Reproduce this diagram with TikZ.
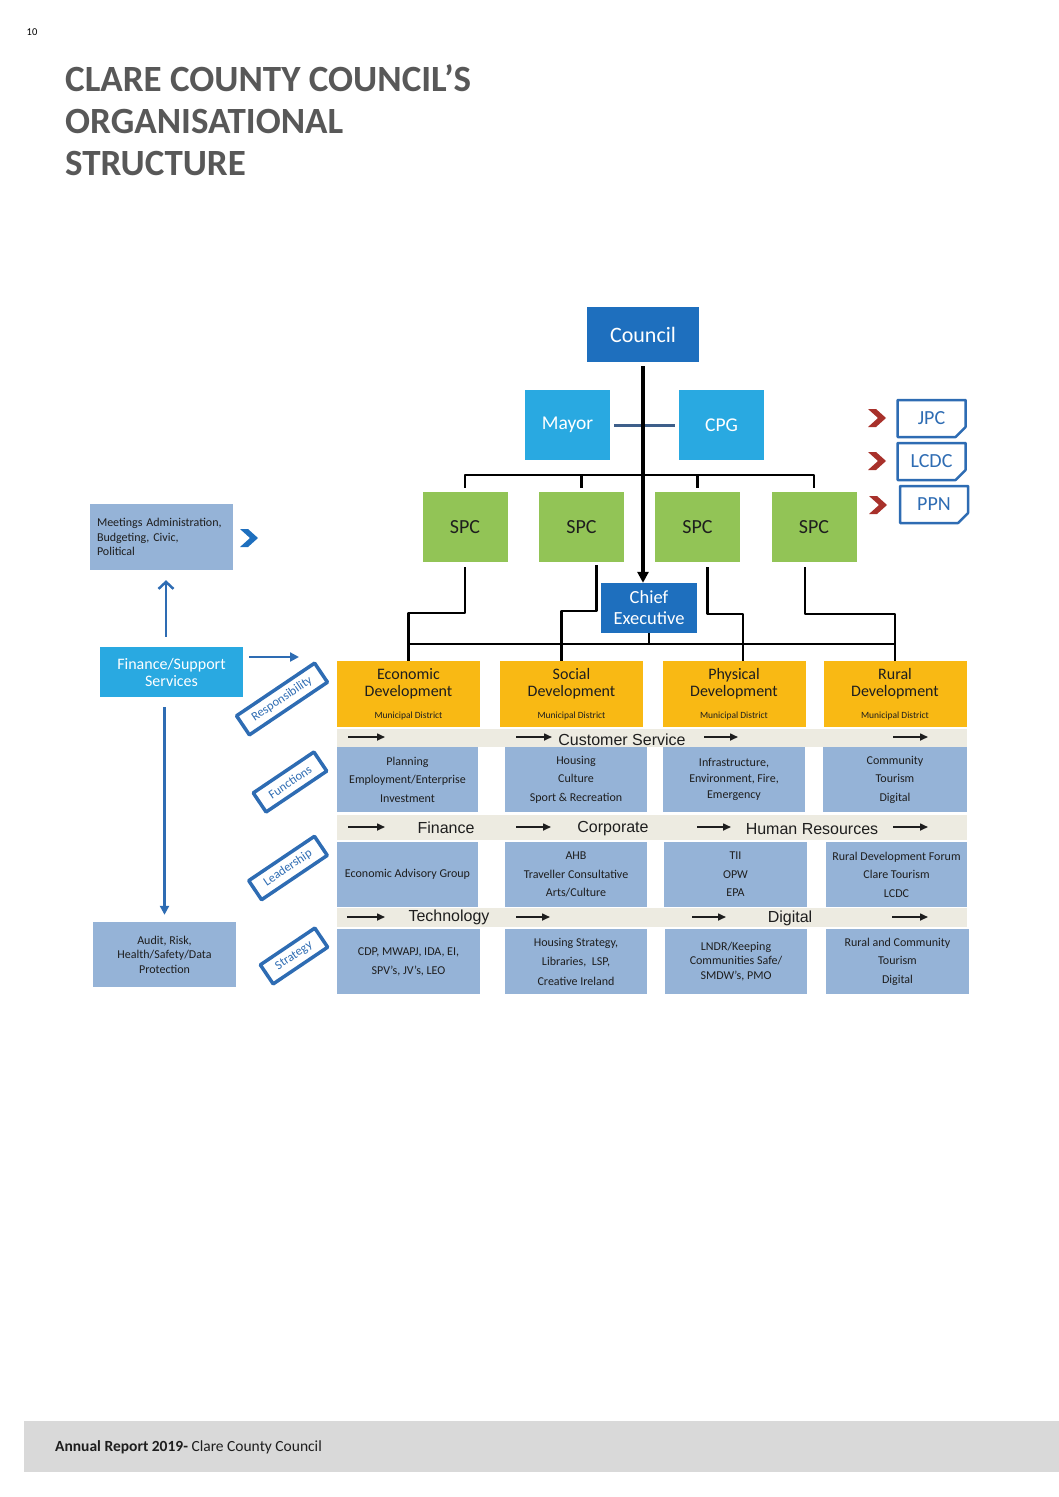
\documentclass[tikz,border=0pt]{standalone}
\usepackage{fontspec}
\setmainfont{Carlito}
\newfontfamily\arialfont{Liberation Sans}
\usetikzlibrary{arrows.meta, shapes.misc}

\definecolor{cdark}{HTML}{1E6FBE}
\definecolor{clight}{HTML}{29A9E1}
\definecolor{cgreen}{HTML}{92C456}
\definecolor{cgold}{HTML}{F9B914}
\definecolor{cpale}{HTML}{95B3D7}
\definecolor{cband}{HTML}{EDEBE1}
\definecolor{cline}{HTML}{2E6CB3}
\definecolor{cslate}{HTML}{3E5F8A}
\definecolor{cred}{HTML}{A8312B}
\definecolor{ctitle}{HTML}{585858}
\definecolor{ctext}{HTML}{1E1E1E}
\definecolor{cfoot}{HTML}{D9D9D9}

\begin{document}
\begin{tikzpicture}[x=1pt, y=-1pt, line join=round,
  every node/.style={inner sep=0pt},
  box/.style={rectangle, align=center},
  topbox/.style={box, fill=cdark, text=white},
  lightbox/.style={box, fill=clight, text=white, minimum width=85pt, minimum height=70pt, font=\fontsize{19.5}{21}\selectfont},
  spcbox/.style={box, fill=cgreen, text=ctext, minimum width=85pt, minimum height=70pt, font=\fontsize{20}{22}\selectfont},
  devbox/.style={box, fill=cgold, text=ctext, minimum width=143pt, minimum height=66pt, font=\fontsize{16}{17}\selectfont},
  infobox/.style={box, fill=cpale, text=ctext, minimum width=142pt, minimum height=65pt, font=\fontsize{12}{18.5}\selectfont},
  sidebox/.style={box, fill=cpale, text=ctext, minimum width=143pt, minimum height=66pt, font=\fontsize{12}{14.5}\selectfont},
  band/.style={box, fill=cband, minimum width=630pt},
  bandtext/.style={text=ctext, font=\arialfont\fontsize{16}{16}\selectfont},
  rowtag/.style={draw=cline, line width=3.5pt, fill=white, text=cline, rotate=34, minimum height=23pt, inner xsep=12pt, font=\fontsize{12.5}{13}\selectfont},
  tagbox/.style={chamfered rectangle, chamfered rectangle corners=south east, chamfered rectangle sep=5pt, draw=cline, line width=2.5pt, fill=white, text=cline, minimum width=68pt, minimum height=37pt, font=\fontsize{20}{22}\selectfont},
  link/.style={line width=2.5pt, black},
  flow/.style={cline, line width=2.5pt},
  bandarrow/.style={-{Triangle[length=8pt,width=7pt]}, line width=1.6pt, ctext}]

\useasboundingbox (0,0) rectangle (1059,1497);

% page header
\node[anchor=center, font=\fontsize{10.5}{10}\selectfont] (pagenum) at (32,32) {10};
\node[anchor=north west, align=left, text=ctitle, font=\bfseries\fontsize{37}{42}\selectfont] (title) at (65,64)
  {CLARE COUNTY COUNCIL’S\\ORGANISATIONAL\\STRUCTURE};

% council and members
\node[topbox, minimum width=112pt, minimum height=55pt, font=\fontsize{22}{24}\selectfont] (council) at (643,334.5) {Council};
\node[lightbox] (mayor) at (567.5,425) {Mayor};
\node[lightbox] (cpg) at (721.5,425) {CPG};

\node[spcbox] (spc1) at (465,527) {SPC};
\node[spcbox] (spc2) at (581.5,527) {SPC};
\node[spcbox] (spc3) at (697.5,527) {SPC};
\node[spcbox] (spc4) at (814,527) {SPC};

\node[topbox, minimum width=96pt, minimum height=50pt, font=\fontsize{18.5}{21}\selectfont] (ce) at (649,608) {Chief\\Executive};

% committees
\node[tagbox] (jpc) at (931.5,418.5) {JPC};
\node[tagbox] (lcdc) at (931.5,461.5) {LCDC};
\node[tagbox] (ppn) at (934,504.5) {PPN};
\foreach \cx/\cy/\cc in {868/409/cred, 868/452/cred, 869/496/cred, 240/529/cdark}
  \fill[\cc] (\cx,\cy) -- ++(8,0) -- ++(10,9) -- ++(-10,9) -- ++(-8,0) -- ++(10,-9) -- cycle;

% directorates
\node[devbox] (econ) at (408.5,694) {Economic\\Development\\[5pt]{\fontsize{9.5}{10}\selectfont Municipal District}};
\node[devbox] (social) at (571.5,694) {Social\\Development\\[5pt]{\fontsize{9.5}{10}\selectfont Municipal District}};
\node[devbox] (phys) at (734,694) {Physical\\Development\\[5pt]{\fontsize{9.5}{10}\selectfont Municipal District}};
\node[devbox] (rural) at (895,694) {Rural\\Development\\[5pt]{\fontsize{9.5}{10}\selectfont Municipal District}};

\node[band, minimum height=18pt] (band1) at (652,738) {};
\node[band, minimum height=25pt] (band2) at (652,827.5) {};
\node[band, minimum height=19pt] (band3) at (652,917.5) {};

\node[infobox, minimum width=141pt] (fun1) at (407.5,779.5) {Planning\\Employment/Enterprise\\Investment};
\node[infobox] (fun2) at (576,779.5) {Housing\\Culture\\Sport \& Recreation};
\node[infobox, font=\fontsize{12}{16}\selectfont] (fun3) at (734,779.5) {Infrastructure,\\Environment, Fire,\\Emergency};
\node[infobox, minimum width=144pt] (fun4) at (895,779.5) {Community\\Tourism\\Digital};

\node[infobox, minimum width=141pt] (lead1) at (407.5,874.5) {Economic Advisory Group};
\node[infobox] (lead2) at (576,874.5) {AHB\\Traveller Consultative\\Arts/Culture};
\node[infobox, minimum width=143pt] (lead3) at (735.5,874.5) {TII\\OPW\\EPA};
\node[infobox, minimum width=141pt] (lead4) at (896.5,874.5) {Rural Development Forum\\Clare Tourism\\LCDC};

\node[infobox, minimum width=143pt, font=\fontsize{12}{19}\selectfont] (strat1) at (408.5,961.5) {CDP, MWAPJ, IDA, EI,\\SPV’s, JV’s, LEO};
\node[infobox, font=\fontsize{12}{19.5}\selectfont] (strat2) at (576,961.5) {Housing Strategy,\\Libraries,\ \ LSP,\\Creative Ireland};
\node[infobox, font=\fontsize{12}{14.5}\selectfont] (strat3) at (736,961.5) {LNDR/Keeping\\Communities Safe/\\SMDW’s, PMO};
\node[infobox, minimum width=143pt] (strat4) at (897.5,961.5) {Rural and Community\\Tourism\\Digital};

% band captions
\node[bandtext] (custserv) at (622,740) {Customer Service};
\node[bandtext] (finance) at (446,828) {Finance};
\node[bandtext] (corporate) at (613,829) {Corporate};
\node[bandtext] (hr) at (812,829) {Human Resources};
\node[bandtext] (tech) at (449,917) {Technology};
\node[bandtext] (digital) at (790,918) {Digital};

\foreach \ax/\bx/\ay in {348/385/737, 516/552/737, 704/738/737, 893/928/737,
                         348/385/827, 516/551/827, 697/731/827, 893/928/827,
                         347/385/917, 516/550/917, 692/726/917, 892/928/917}
  \draw[bandarrow] (\ax,\ay) -- (\bx,\ay);

% row tags
\node[rowtag] (tresp) at (282,699) {Responsibility};
\node[rowtag] (tfunc) at (290,782) {Functions};
\node[rowtag] (tlead) at (288,868) {Leadership};
\node[rowtag] (tstrat) at (294,956) {Strategy};

% support side
\node[sidebox, text width=129pt, inner xsep=7pt, align=left] (meet) at (161.5,537) {Meetings Administration,\\Budgeting, Civic,\\Political};
\node[box, fill=clight, text=white, minimum width=143pt, minimum height=50pt, font=\fontsize{16}{17}\selectfont] (fin) at (171.5,672) {Finance/Support\\Services};
\node[sidebox, minimum height=65pt] (audit) at (164.5,954.5) {Audit, Risk,\\Health/Safety/Data\\Protection};
\coordinate (finto) at (299,657);

\draw[flow, -{Straight Barb[length=7pt,width=15pt]}, shorten <=10pt, shorten >=10pt]
  ([xshift=-5.5pt]fin.north) -- ([xshift=-5.5pt]fin.north |- meet.south);
\draw[flow, -{Triangle[length=9pt,width=9pt]}, shorten <=6pt] ([yshift=15pt]fin.east) -- (finto);
\draw[flow, -{Triangle[length=9pt,width=9pt]}, shorten <=10pt, shorten >=7pt] (audit.north |- fin.south) -- (audit.north);

% connectors
\coordinate (bar) at (643,475);
\coordinate (bus) at (649,644);
\draw[link, shorten <=4pt] (spc1.north) -- (spc1.north |- bar) -- (spc4.north |- bar) -- ([yshift=4pt]spc4.north);
\draw[link, shorten <=4pt] (spc2.north) -- (spc2.north |- bar);
\draw[link, shorten <=4pt] (spc3.north) -- (spc3.north |- bar);
\draw[cslate, line width=3pt, shorten <=4pt, shorten >=4pt] (mayor.east) -- (cpg.west);
\draw[line width=3.5pt, -{Triangle[length=11pt,width=11pt]}, shorten <=4pt] (council.south) -- (council.south |- ce.north);

\draw[link, shorten <=5pt] (spc1.south) -- ++(0,51) -| (econ.north);
\draw[link, shorten <=3pt] ([xshift=15pt]spc2.south) -- ++(0,49) -| ([xshift=-10pt]social.north);
\draw[link, shorten <=5pt] ([xshift=10pt]spc3.south) -- ++(0,52) -| ([xshift=9pt]phys.north);
\draw[link, shorten <=5pt] ([xshift=-9pt]spc4.south) -- ++(0,52) -| (rural.north);
\draw[link] (ce.south) -- (bus);
\draw[link] (econ.north |- bus) -- (rural.north |- bus);

% footer
\fill[cfoot] (24,1421) rectangle (1059,1472);
\node[anchor=west, text=ctext, font=\fontsize{15.5}{16}\selectfont] (footer) at (55,1447) {\textbf{Annual Report 2019-} Clare County Council};

\end{tikzpicture}
\end{document}
